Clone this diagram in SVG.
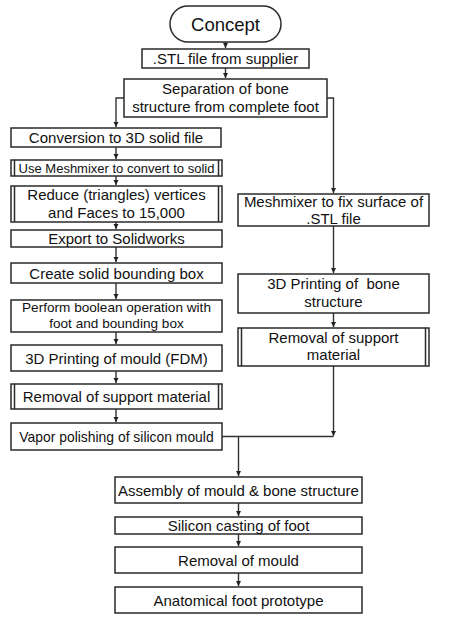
<svg xmlns="http://www.w3.org/2000/svg" width="474" height="620" viewBox="0 0 474 620">
<style>
.b{fill:#fff;stroke:#2a2a2a;stroke-width:1.5}
.bar{stroke:#2a2a2a;stroke-width:1.5}
.t{font-family:"Liberation Sans",Arial,sans-serif;font-size:15px;fill:#111;text-anchor:middle}
.s{font-size:13px}
.c{fill:none;stroke:#333;stroke-width:1.4}
</style>
<defs>
<marker id="a" markerUnits="userSpaceOnUse" markerWidth="6" markerHeight="6" refX="5" refY="3" orient="auto">
<path d="M0,0.5 L5,3 L0,5.5 Z" fill="#222"/>
</marker>
</defs>
<rect width="474" height="620" fill="#fff"/>
<g id="connectors">
<path class="c" d="M225.5 42 V48" marker-end="url(#a)"/>
<path class="c" d="M225.5 68 V78" marker-end="url(#a)"/>
<path class="c" d="M124 98 H116 V127" marker-end="url(#a)"/>
<path class="c" d="M116 147 V159" marker-end="url(#a)"/>
<path class="c" d="M116 176 V185" marker-end="url(#a)"/>
<path class="c" d="M116 222 V229" marker-end="url(#a)"/>
<path class="c" d="M116 247 V262" marker-end="url(#a)"/>
<path class="c" d="M116 283 V299" marker-end="url(#a)"/>
<path class="c" d="M116 332 V344" marker-end="url(#a)"/>
<path class="c" d="M116 371 V383" marker-end="url(#a)"/>
<path class="c" d="M116 409 V422" marker-end="url(#a)"/>
<path class="c" d="M327 98 H333.5 V193" marker-end="url(#a)"/>
<path class="c" d="M333.5 226 V273" marker-end="url(#a)"/>
<path class="c" d="M333.5 313 V327" marker-end="url(#a)"/>
<path class="c" d="M333.5 366 V436" marker-end="url(#a)"/>
<path class="c" d="M222 436.5 H333.5"/>
<path class="c" d="M238.5 436.5 V476" marker-end="url(#a)"/>
<path class="c" d="M238.5 503 V516" marker-end="url(#a)"/>
<path class="c" d="M238.5 534 V546" marker-end="url(#a)"/>
<path class="c" d="M238.5 573 V586" marker-end="url(#a)"/>
</g>
<g id="concept"><rect class="b" x="170" y="6" width="111" height="36" rx="18"/><text class="t" x="225.5" y="30.5" style="font-size:18.5px">Concept</text></g>
<g id="stl"><rect class="b" x="142" y="49" width="167" height="19"/><text class="t" x="225.5" y="64">.STL file from supplier</text></g>
<g id="separation"><rect class="b" x="124" y="79" width="203" height="38"/><text class="t" x="225.5" y="93.5">Separation of bone</text><text class="t" x="225.5" y="112">structure from complete foot</text></g>
<g id="conversion"><rect class="b" x="11" y="128" width="210" height="19"/><text class="t" x="116" y="143">Conversion to 3D solid file</text></g>
<g id="meshmixer-solid"><rect class="b" x="11" y="160" width="211" height="16"/><line class="bar" x1="14.5" y1="160" x2="14.5" y2="176"/><line class="bar" x1="218.5" y1="160" x2="218.5" y2="176"/><text class="t s" x="116.5" y="172.5">Use Meshmixer to convert to solid</text></g>
<g id="reduce"><rect class="b" x="11" y="186" width="211" height="36"/><line class="bar" x1="14.5" y1="186" x2="14.5" y2="222"/><line class="bar" x1="218.5" y1="186" x2="218.5" y2="222"/><text class="t" x="116.5" y="199.5">Reduce (triangles) vertices</text><text class="t" x="116.5" y="217.5">and Faces to 15,000</text></g>
<g id="export"><rect class="b" x="11" y="230" width="211" height="17"/><text class="t" x="116.5" y="244">Export to Solidworks</text></g>
<g id="bounding"><rect class="b" x="11" y="263" width="211" height="20"/><text class="t" x="116.5" y="278.5">Create solid bounding box</text></g>
<g id="boolean"><rect class="b" x="11" y="300" width="211" height="32"/><text class="t" x="116.5" y="312" style="font-size:13.6px">Perform boolean operation with</text><text class="t" x="116.5" y="328" style="font-size:13.6px">foot and bounding box</text></g>
<g id="print-mould"><rect class="b" x="11" y="345" width="211" height="26"/><text class="t" x="116.5" y="363.5">3D Printing of mould (FDM)</text></g>
<g id="removal-left"><rect class="b" x="11" y="384" width="211" height="25"/><line class="bar" x1="14.5" y1="384" x2="14.5" y2="409"/><line class="bar" x1="218.5" y1="384" x2="218.5" y2="409"/><text class="t" x="116.5" y="402">Removal of support material</text></g>
<g id="vapor"><rect class="b" x="11" y="423" width="211" height="27"/><text class="t" x="116.5" y="441.5" style="font-size:13.9px">Vapor polishing of silicon mould</text></g>
<g id="meshmixer-fix"><rect class="b" x="238" y="194" width="191" height="32"/><text class="t" x="333.5" y="207">Meshmixer to fix surface of</text><text class="t" x="333.5" y="224">.STL file</text></g>
<g id="print-bone"><rect class="b" x="238" y="274" width="191" height="39"/><text class="t" x="333.5" y="289" xml:space="preserve">3D Printing of  bone</text><text class="t" x="333.5" y="307">structure</text></g>
<g id="removal-right"><rect class="b" x="238" y="328" width="191" height="38"/><line class="bar" x1="241.5" y1="328" x2="241.5" y2="366"/><line class="bar" x1="425.5" y1="328" x2="425.5" y2="366"/><text class="t" x="333.5" y="343">Removal of support</text><text class="t" x="333.5" y="360">material</text></g>
<g id="assembly"><rect class="b" x="115" y="477" width="247" height="26"/><text class="t" x="238.5" y="495.5">Assembly of mould &amp; bone structure</text></g>
<g id="casting"><rect class="b" x="115" y="517" width="247" height="17"/><text class="t" x="238.5" y="531">Silicon casting of foot</text></g>
<g id="removal-mould"><rect class="b" x="115" y="547" width="247" height="26"/><text class="t" x="238.5" y="565.5">Removal of mould</text></g>
<g id="prototype"><rect class="b" x="115" y="587" width="247" height="26"/><text class="t" x="238.5" y="605.5">Anatomical foot prototype</text></g>
</svg>
